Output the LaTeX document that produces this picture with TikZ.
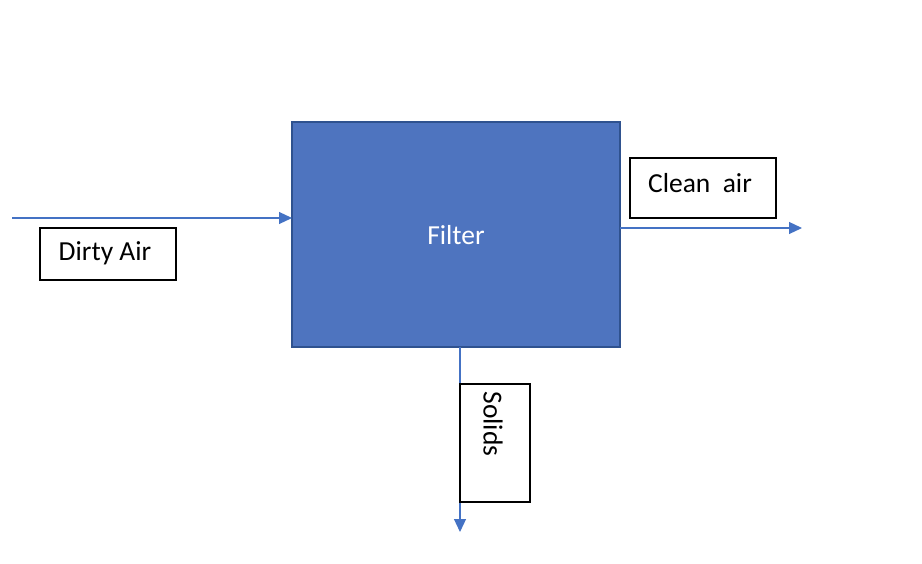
\documentclass[tikz,border=0pt]{standalone}
\usepackage{fontspec}
\setmainfont{Carlito}
\usetikzlibrary{arrows.meta}
\definecolor{lineblue}{HTML}{4472C4}
\definecolor{boxblue}{HTML}{4E74BF}
\definecolor{edgeblue}{HTML}{2F528F}
\tikzset{
  flow/.style={draw=lineblue, line width=1.2pt, -{Triangle[length=13pt,width=12pt]}},
  label box/.style={draw=black, line width=1.1pt, fill=white, inner sep=0pt},
  lbl/.style={font=\fontsize{27.5}{32}\selectfont, text=black},
}
\begin{document}
\begin{tikzpicture}[x=1pt,y=-1pt]
\useasboundingbox (0,0) rectangle (922,564);
% filter
\draw[fill=boxblue, draw=edgeblue, line width=1.5pt] (292,122) rectangle (620,347);
\node[font=\fontsize{27.5}{32}\selectfont, text=white] (filter) at (456,235) {Filter};
\coordinate (fl) at (292,218);
\coordinate (fr) at (620,228);
\coordinate (fb) at (460,347);
\coordinate (in) at (12,218);
\coordinate (out) at (802,228);
\coordinate (down) at (460,532);
% label boxes
\draw[label box] (40,228) rectangle (176,280);
\node[lbl] (dirty) at (105,253) {Dirty Air};
\draw[label box] (630,158) rectangle (776,218);
\node[lbl] (clean) at (700,183) {Clean\ \ air};
% flows
\draw[flow] (in) -- (fl);
\draw[flow] (fr) -- (out);
\draw[flow] (fb) -- (down);
\draw[label box] (460,384) rectangle (530,502);
\node[lbl, rotate=-90] (solids) at (493,424) {Solids};
\end{tikzpicture}
\end{document}
